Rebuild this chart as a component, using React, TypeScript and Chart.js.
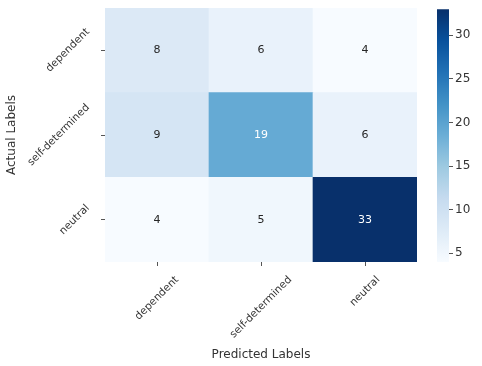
import React, { useEffect, useRef } from "react";
import { Chart, registerables } from "chart.js";

Chart.register(...registerables);

// ---- data ----
const predictedLabels = ["dependent", "self-determined", "neutral"];
const actualLabels = ["dependent", "self-determined", "neutral"];
const rowDependent = [8, 6, 4];
const rowSelfDetermined = [9, 19, 6];
const rowNeutral = [4, 5, 33];
const matrix = [rowDependent, rowSelfDetermined, rowNeutral];
const colorbarTicks = [5, 10, 15, 20, 25, 30];
const xTitle = "Predicted Labels";
const yTitle = "Actual Labels";

const allValues = matrix.flat();
const vmin = Math.min(...allValues);
const vmax = Math.max(...allValues);

// matplotlib "Blues"
const BLUES = [
  "#f7fbff", "#deebf7", "#c6dbef", "#9ecae1", "#6baed6",
  "#4292c6", "#2171b5", "#08519c", "#08306b",
];
const hexToRgb = (h: string) => [1, 3, 5].map((i) => parseInt(h.slice(i, i + 2), 16));
function blues(t: number): number[] {
  t = Math.max(0, Math.min(1, t));
  const pos = t * (BLUES.length - 1);
  const i = Math.min(BLUES.length - 2, Math.floor(pos));
  const f = pos - i;
  const a = hexToRgb(BLUES[i]);
  const b = hexToRgb(BLUES[i + 1]);
  return a.map((v, k) => Math.round(v + (b[k] - v) * f));
}
const colorFor = (v: number) => {
  const c = blues((v - vmin) / (vmax - vmin));
  return `rgb(${c[0]},${c[1]},${c[2]})`;
};
const textColorFor = (v: number) => {
  const c = blues((v - vmin) / (vmax - vmin)).map((x) => {
    const s = x / 255;
    return s <= 0.03928 ? s / 12.92 : Math.pow((s + 0.055) / 1.055, 2.4);
  });
  const lum = 0.2126 * c[0] + 0.7152 * c[1] + 0.0722 * c[2];
  return lum > 0.408 ? "#262626" : "#ffffff";
};

const FONT = "'DejaVu Sans', sans-serif";
const TICK_FS = 10.5;
const ANNOT_FS = 11;
const TITLE_FS = 12;
const CB_FS = 12;
const TEXT = "#333333";
const W = 482;
const H = 366;

const labelPlugin = {
  id: "heatLabels",
  afterDraw(chart: any) {
    const ctx = chart.ctx;
    ctx.save();
    // annotations
    ctx.font = `${ANNOT_FS}px ${FONT}`;
    chart.data.datasets.forEach((ds: any, d: number) => {
      const r = ds.rowIndex;
      const meta = chart.getDatasetMeta(d);
      meta.data.forEach((el: any, i: number) => {
        const v = matrix[r][i];
        ctx.fillStyle = textColorFor(v);
        ctx.textAlign = "center";
        ctx.textBaseline = "middle";
        ctx.fillText(String(v), el.x, (el.y + el.base) / 2);
      });
    });
    ctx.font = `${TICK_FS}px ${FONT}`;
    ctx.fillStyle = TEXT;
    const c45 = Math.SQRT1_2;
    const h = TICK_FS * 1.1;
    // x tick labels: rotated 45deg, bbox top centred under the tick
    const xs = chart.scales.x;
    predictedLabels.forEach((lab, i) => {
      const w = ctx.measureText(lab).width;
      const bb = (w + h) * c45;
      const cx = xs.getPixelForTick(i);
      const cy = chart.chartArea.bottom + 12 + bb / 2;
      ctx.save();
      ctx.translate(cx, cy);
      ctx.rotate(-Math.PI / 4);
      ctx.textAlign = "center";
      ctx.textBaseline = "middle";
      ctx.fillText(lab, 0, 0);
      ctx.restore();
    });
    // y tick labels: rotated 45deg, bbox right edge left of the tick
    const ys = chart.scales.y;
    actualLabels.forEach((lab, r) => {
      const w = ctx.measureText(lab).width;
      const bb = (w + h) * c45;
      const cy = ys.getPixelForValue(actualLabels.length - r - 0.5);
      const cx = chart.chartArea.left - 13 - bb / 2;
      ctx.save();
      ctx.translate(cx, cy);
      ctx.rotate(-Math.PI / 4);
      ctx.textAlign = "center";
      ctx.textBaseline = "middle";
      ctx.fillText(lab, 0, 0);
      ctx.restore();
    });
    ctx.restore();
  },
};

export default function App() {
  const mainRef = useRef<HTMLCanvasElement>(null);
  const cbRef = useRef<HTMLCanvasElement>(null);

  useEffect(() => {
    document.body.style.margin = "0";
    const n = actualLabels.length;
    // bottom row first so stacking puts "dependent" on top
    const datasets = [] as any[];
    for (let r = n - 1; r >= 0; r--) {
      datasets.push({
        label: actualLabels[r],
        rowIndex: r,
        data: matrix[r].map(() => 1),
        backgroundColor: matrix[r].map(colorFor),
        borderWidth: 0,
        categoryPercentage: 1,
        barPercentage: 1,
      });
    }
    const gridOpts = {
      offset: false,
      drawOnChartArea: false,
      drawTicks: true,
      tickLength: 4,
      color: "#555555",
    };
    const main = new Chart(mainRef.current!, {
      type: "bar",
      data: { labels: predictedLabels, datasets },
      options: {
        animation: false,
        responsive: false,
        maintainAspectRatio: false,
        layout: { padding: { top: 8, right: 65, left: 0, bottom: 0 } },
        plugins: { legend: { display: false }, tooltip: { enabled: false } },
        scales: {
          x: {
            type: "category",
            stacked: true,
            offset: true,
            grid: gridOpts,
            border: { display: false },
            ticks: { display: false },
            title: {
              display: true,
              text: xTitle,
              color: TEXT,
              font: { family: FONT, size: TITLE_FS },
              padding: { top: 0, bottom: 4 },
            },
            afterFit: (s: any) => {
              s.height = H - 262;
            },
          },
          y: {
            type: "linear",
            stacked: true,
            min: 0,
            max: n,
            grid: gridOpts,
            border: { display: false },
            ticks: { display: false },
            afterBuildTicks: (s: any) => {
              s.ticks = actualLabels.map((_, i) => ({ value: i + 0.5 }));
            },
            title: {
              display: true,
              text: yTitle,
              color: TEXT,
              font: { family: FONT, size: TITLE_FS },
              padding: { top: 5, bottom: 0 },
            },
            afterFit: (s: any) => {
              s.width = 105;
            },
          },
        },
      },
      plugins: [labelPlugin],
    } as any);

    const cb = new Chart(cbRef.current!, {
      type: "bar",
      data: {
        labels: ["scale"],
        datasets: [
          {
            data: [[vmin, vmax]],
            borderWidth: 0,
            categoryPercentage: 1,
            barPercentage: 1,
            backgroundColor: (ctx: any) => {
              const area = ctx.chart.chartArea;
              if (!area) return BLUES[0];
              const g = ctx.chart.ctx.createLinearGradient(0, area.bottom, 0, area.top);
              for (let k = 0; k <= 32; k++) {
                const c = blues(k / 32);
                g.addColorStop(k / 32, `rgb(${c[0]},${c[1]},${c[2]})`);
              }
              return g;
            },
          },
        ],
      },
      options: {
        animation: false,
        responsive: false,
        maintainAspectRatio: false,
        layout: { padding: { top: 9, bottom: 0, left: 0, right: 0 } },
        plugins: { legend: { display: false }, tooltip: { enabled: false } },
        scales: {
          x: {
            display: false,
            afterFit: (s: any) => {
              s.height = H - 262;
            },
          },
          y: {
            type: "linear",
            position: "right",
            min: vmin,
            max: vmax,
            afterBuildTicks: (s: any) => {
              s.ticks = colorbarTicks.map((v) => ({ value: v }));
            },
            grid: { drawOnChartArea: false, drawTicks: true, tickLength: 4, color: "#555555" },
            border: { display: false },
            ticks: {
              color: TEXT,
              font: { family: FONT, size: CB_FS },
              padding: 2,
            },
            afterFit: (s: any) => {
              s.width = 45 - 12;
            },
          },
        },
      },
    } as any);

    return () => {
      main.destroy();
      cb.destroy();
    };
  }, []);

  return (
    <div style={{ position: "fixed", left: 0, top: 0, width: W, height: H, background: "#fff" }}>
      <canvas
        ref={mainRef}
        width={W}
        height={H}
        style={{ position: "absolute", left: 0, top: 0, width: W, height: H }}
      />
      <canvas
        ref={cbRef}
        width={45}
        height={H}
        style={{ position: "absolute", left: 437, top: 0, width: 45, height: H }}
      />
    </div>
  );
}
